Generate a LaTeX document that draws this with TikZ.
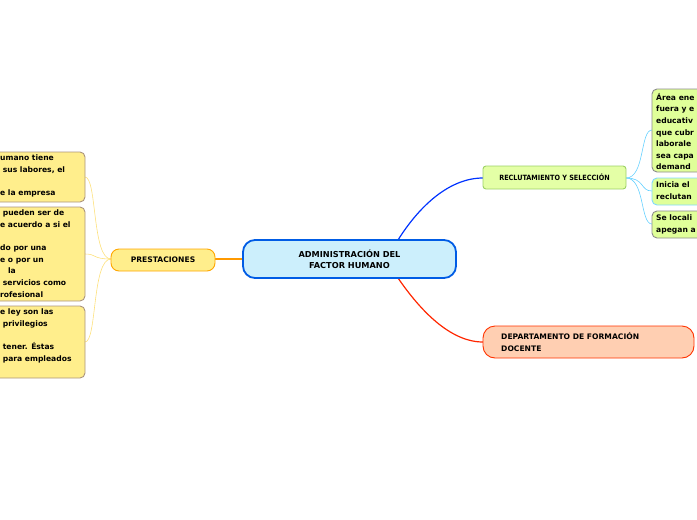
\documentclass[tikz,border=0pt]{standalone}
\usepackage{fontspec}
\setmainfont{DejaVu Sans}
\newfontfamily\condf{DejaVu Sans Condensed}
\begin{document}
\begin{tikzpicture}[x=1pt,y=-1pt,
 bx/.style={draw,rounded corners=5pt,line width=0.9pt},
 tx/.style={font=\bfseries\fontsize{7.6}{11.6}\selectfont,align=left,inner sep=0pt},
 lk/.style={line width=0.6pt}]
\useasboundingbox (0,0) rectangle (697,520);
\clip (0,0) rectangle (697,520);
% connectors
\coordinate (ra) at (626,178); \coordinate (pa) at (111,259);
\draw[lk,draw=blue!30!cyan!60] (ra) .. controls (645,178) and (640,130) .. (652,130);
\draw[lk,draw=blue!30!cyan!60] (ra) .. controls (645,178) and (640,191) .. (652,191);
\draw[lk,draw=blue!30!cyan!60] (ra) .. controls (645,178) and (640,224) .. (652,224);
\draw[lk,draw=yellow!60!orange!50] (pa) .. controls (92,259) and (97,177) .. (85,177);
\draw[lk,draw=yellow!60!orange!50] (pa) .. controls (92,259) and (97,254) .. (85,254);
\draw[lk,draw=yellow!60!orange!50] (pa) .. controls (92,259) and (97,342) .. (85,342);
\draw[line width=1.2pt,draw=orange!80!yellow] (243,259) -- (pa);
\draw[line width=1.2pt,draw=blue!80!cyan] (398,240) .. controls (420,205) and (450,178) .. (483,178);
\draw[line width=1.2pt,draw=red!70!orange] (398,278) .. controls (420,310) and (450,342) .. (483,342);
% center
\node[bx,draw=blue!60!cyan!90!black,fill=cyan!20,line width=1.8pt,rounded corners=12pt,minimum width=213pt,minimum height=38pt,align=center,font=\bfseries\fontsize{8.2}{11}\selectfont] (c) at (349.5,259) {ADMINISTRACIÓN DEL\\FACTOR HUMANO};
% reclutamiento
\node[bx,draw=green!50!yellow!70!black!60,fill=green!30!yellow!35,rounded corners=3pt,minimum width=143pt,minimum height=23pt,font=\condf\bfseries\fontsize{7.2}{9}\selectfont] (r) at (554.5,177.5) {RECLUTAMIENTO Y SELECCIÓN};
\node[bx,draw=black!45,fill=green!30!yellow!40,minimum width=80pt,minimum height=83pt] (r1) at (692,130.5) {};
\node[bx,draw=blue!30!cyan!50,fill=green!30!yellow!40,minimum width=80pt,minimum height=27pt] (r2) at (692,191.5) {};
\node[bx,draw=black!45,fill=green!30!yellow!40,minimum width=80pt,minimum height=27pt] (r3) at (692,224.5) {};
\node[tx,anchor=north west] at (656,93) {Área ene\\fuera y e\\educativ\\que cubr\\laborale\\sea capa\\demand};
\node[tx,anchor=north west] at (656,182) {Inicia el\\reclutan};
\node[tx,anchor=north west] at (656,215) {Se locali\\apegan a};
% departamento
\node[bx,draw=red!60!orange,fill=red!25!orange!30,rounded corners=12pt,minimum width=211pt,minimum height=32pt] (d) at (588.5,342) {};
\node[tx,anchor=west,font=\bfseries\fontsize{7.6}{11.4}\selectfont] at (501,342) {DEPARTAMENTO DE FORMACIÓN\\DOCENTE};
% prestaciones
\node[bx,draw=orange!70!yellow,fill=orange!30!yellow!45,rounded corners=8pt,minimum width=104pt,minimum height=22pt,font=\bfseries\fontsize{7.6}{9}\selectfont] (p) at (163,260) {PRESTACIONES};
\node[bx,draw=brown!60!black!60,fill=orange!30!yellow!45,minimum width=100pt,minimum height=50pt] (l1) at (35,177) {};
\node[bx,draw=brown!60!black!60,fill=orange!30!yellow!45,minimum width=100pt,minimum height=94pt] (l2) at (35,254) {};
\node[bx,draw=brown!60!black!60,fill=orange!30!yellow!45,minimum width=100pt,minimum height=72pt] (l3) at (35,342) {};
\node[tx,anchor=north west] at (0,155) {umano tiene\\\ sus labores, el\\\strut\\e la empresa};
\node[tx,anchor=north west] at (0,210) {\ pueden ser de\\e acuerdo a si el\\\strut\\do por una\\e o por un\\\ \ \ la\\\ servicios como\\rofesional};
\node[tx,anchor=north west] at (0,309) {e ley son las\\\ privilegios\\\strut\\\ tener. Éstas\\\ para empleados};
\end{tikzpicture}
\end{document}
